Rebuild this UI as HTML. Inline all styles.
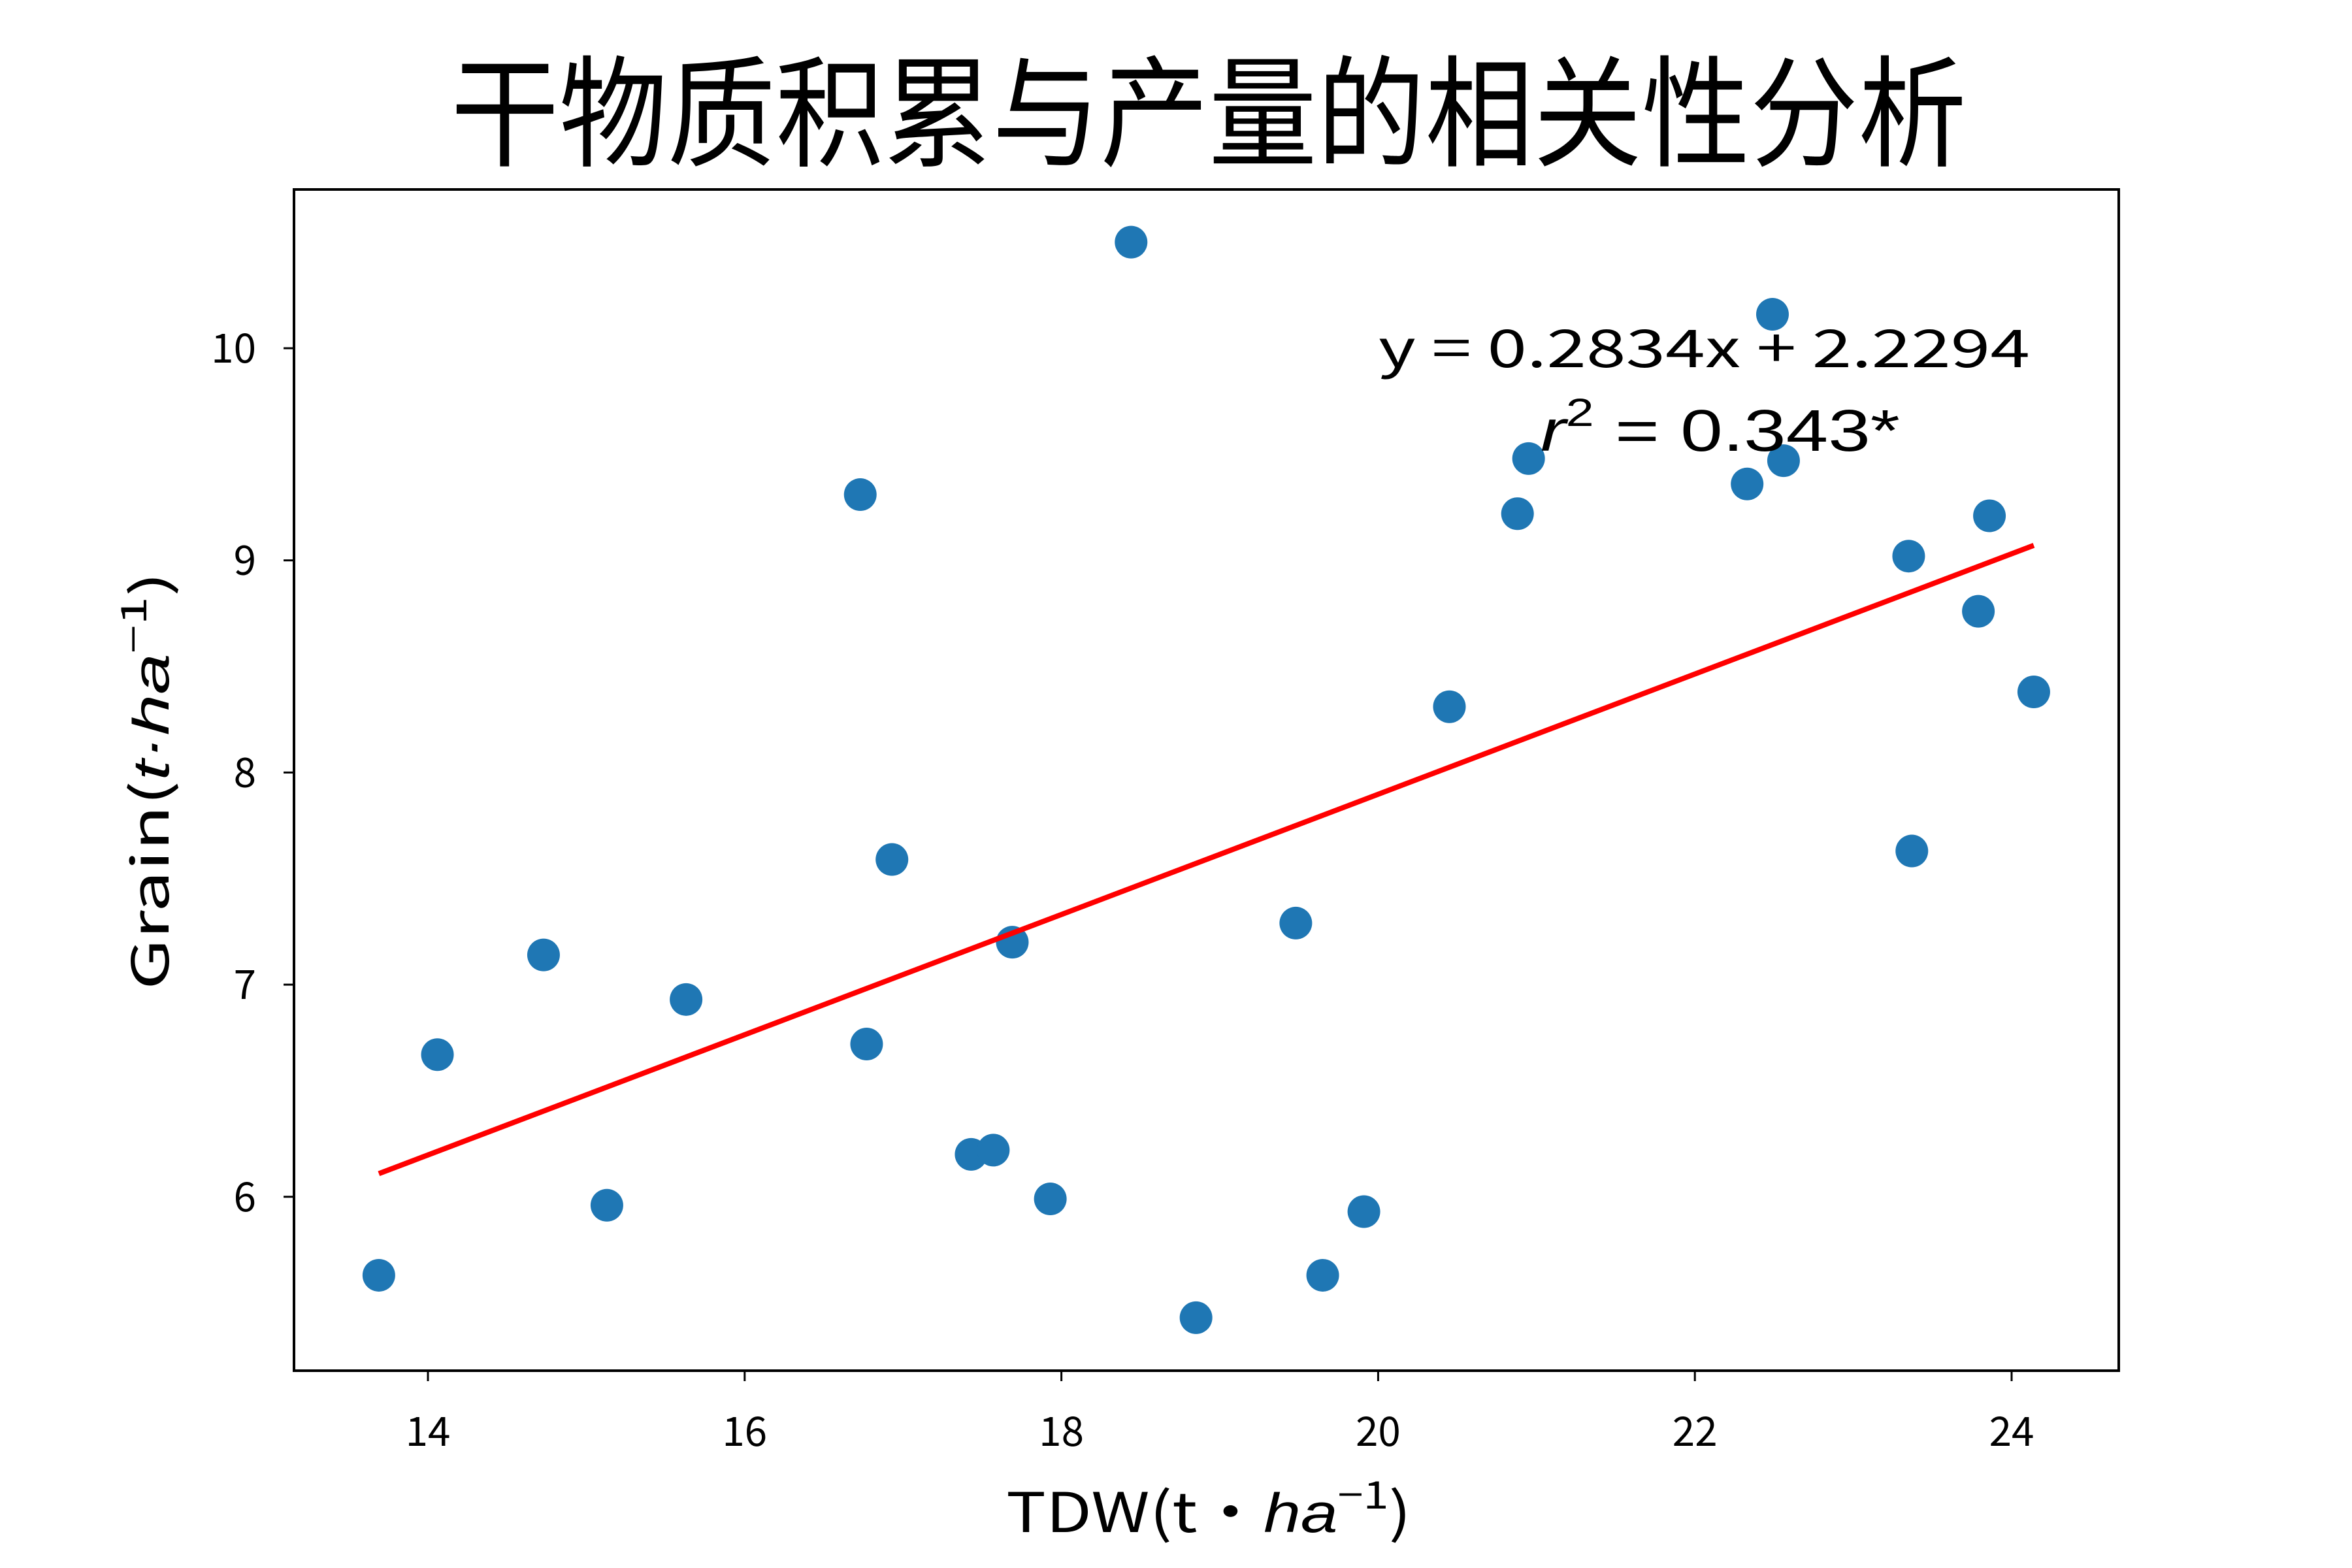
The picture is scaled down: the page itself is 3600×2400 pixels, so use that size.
<!DOCTYPE html>
<html><head><meta charset="utf-8"><style>
html,body{margin:0;padding:0;background:#fff}
svg{display:block}
text{font-family:"Liberation Sans","Noto Sans CJK SC",sans-serif}
.cjk{font-family:"Noto Sans CJK SC","WenQuanYi Zen Hei",sans-serif}
</style></head><body>
<svg id="chart" width="3600" height="2400" viewBox="0 0 3600 2400" xmlns="http://www.w3.org/2000/svg">
<rect width="3600" height="2400" fill="#fff"/>
<text class="cjk" x="1850" y="240" font-size="185" text-anchor="middle" textLength="2320" lengthAdjust="spacingAndGlyphs">干物质积累与产量的相关性分析</text>
<g id="marks"></g>
<rect x="450" y="290" width="2793" height="1808" fill="none" stroke="#000" stroke-width="4"/>
<g id="xticks"></g><g id="yticks"></g>
<text class="cjk" x="2110" y="562" font-size="80" textLength="997" lengthAdjust="spacingAndGlyphs">y = 0.2834x + 2.2294</text>
<text x="2358" y="690" font-size="90" textLength="550" lengthAdjust="spacingAndGlyphs"><tspan font-style="italic">r</tspan><tspan dy="-38" font-size="60">2</tspan><tspan dy="38"> = 0.343*</tspan></text>
<text class="cjk" x="1850" y="2345" font-size="84" text-anchor="middle" textLength="620" lengthAdjust="spacingAndGlyphs">TDW(t・<tspan font-style="italic" font-family="Liberation Sans">ha</tspan><tspan dy="-36" font-size="58">−1</tspan><tspan dy="36">)</tspan></text>
<text class="cjk" transform="translate(258,1195) rotate(-90)" font-size="78" text-anchor="middle" textLength="640" lengthAdjust="spacingAndGlyphs">Grain(<tspan font-style="italic" font-family="Liberation Sans">t·ha</tspan><tspan dy="-34" font-size="54">−1</tspan><tspan dy="34">)</tspan></text>
</svg>
<script>
const xData=[13.69,14.06,14.73,15.13,15.63,16.73,16.77,16.93,17.43,17.57,17.69,17.93,18.44,18.85,19.48,19.65,19.91,20.45,20.88,20.95,22.33,22.49,22.56,23.35,23.37,23.79,23.86,24.14];
const yData=[5.63,6.67,7.14,5.96,6.93,9.31,6.72,7.59,6.20,6.22,7.20,5.99,10.50,5.43,7.29,5.63,5.93,8.31,9.22,9.48,9.36,10.16,9.47,9.02,7.63,8.76,9.21,8.38];
const slope=0.2834;
const intercept=2.2294;
const xTicks=[14,16,18,20,22,24];
const yTicks=[6,7,8,9,10];
const NS='http://www.w3.org/2000/svg';
function sx(v){return 655+(v-14)*242.4;}
function sy(v){return 533+(10-v)*324.7;}
function mk(t,a,p){const e=document.createElementNS(NS,t);for(const k in a)e.setAttribute(k,a[k]);p.appendChild(e);return e;}
const marks=document.getElementById('marks');
xData.forEach((x,i)=>{
 const c=mk('circle',{cx:sx(x),cy:sy(yData[i]),r:25,fill:'#1f77b4'},marks);
 
 
});
const x0=Math.min(...xData),x1=Math.max(...xData);
const ln=mk('line',{x1:sx(x0),y1:sy(slope*x0+intercept),x2:sx(x1),y2:sy(slope*x1+intercept),stroke:'#ff0000','stroke-width':8},marks);


const xg=document.getElementById('xticks');
xTicks.forEach(t=>{
 const l=mk('line',{x1:sx(t),x2:sx(t),y1:2098,y2:2114,stroke:'#000','stroke-width':3},xg);
 
 
 const tx=mk('text',{x:sx(t),y:2213,'font-size':62,'text-anchor':'middle',class:'cjk'},xg);
 tx.textContent=t;
 
 
});
const yg=document.getElementById('yticks');
yTicks.forEach(t=>{
 const l=mk('line',{x1:434,x2:450,y1:sy(t),y2:sy(t),stroke:'#000','stroke-width':3},yg);
 
 
 const tx=mk('text',{x:392,y:sy(t)+22,'font-size':62,'text-anchor':'end',class:'cjk'},yg);
 tx.textContent=t;
 
 
});
</script>
</body></html>
